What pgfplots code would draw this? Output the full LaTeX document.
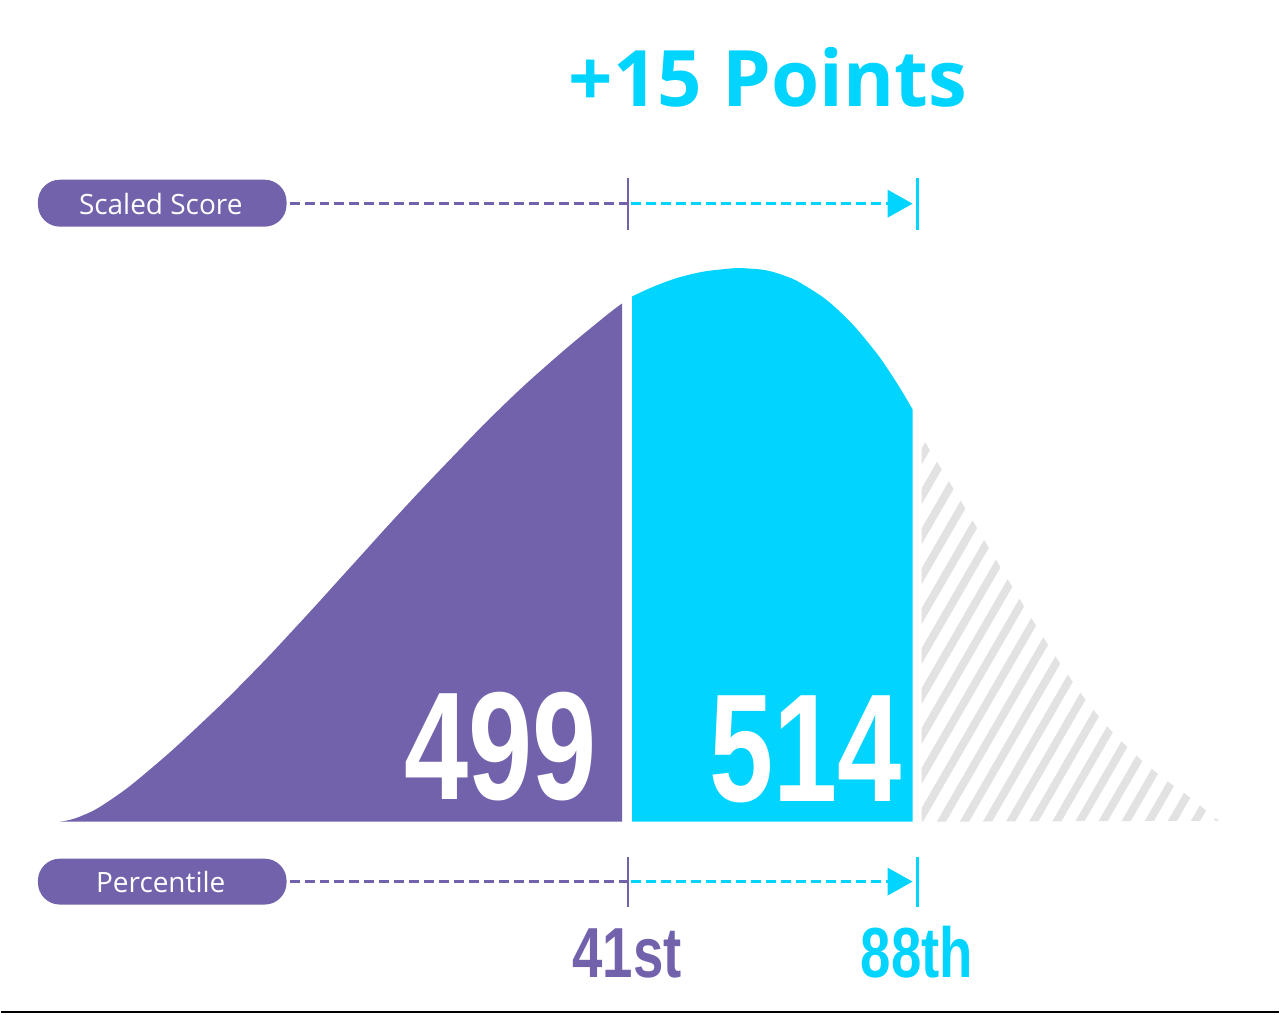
\documentclass[border=0pt]{standalone}
\usepackage{pgfplots}
\pgfplotsset{compat=1.18}
\usepackage{pgfplotstable}
\usetikzlibrary{patterns.meta}
\usepackage{fontspec}
\setmainfont{Open Sans}
\newfontfamily\condf{Liberation Sans}[FakeStretch=0.75]
\newfontfamily\condg{Liberation Sans}[FakeStretch=0.77]
\definecolor{purpleC}{HTML}{7262AC}
\definecolor{cyanC}{HTML}{00D4FF}
\definecolor{hatchC}{HTML}{E2E2E2}

% curve outlines in pixel coordinates (x, y downward)
\pgfplotstableread{
x y
58 823
80 817.5
110 801
150 770
200 725
250 676
300 623
350 568
400 513
450 460
500 409
550 363
600 321
622 304
}\lowpart
\pgfplotstableread{
x y
632 297
660 284.5
690 275
720 270
750 269
780 274.5
810 289
840 312
870 345
893 377
913 410
}\gainpart
\pgfplotstableread{
x y
922 437
950 483
980 533
1010 583
1040 632
1070 678
1100 718
1130 750
1160 776
1190 798
1205 810
1220 822
}\restpart

\begin{document}
\begin{tikzpicture}
\begin{axis}[
  scale only axis, width=640pt, height=508pt,
  xmin=0, xmax=1280, ymin=0, ymax=1016, y dir=reverse,
  hide axis, clip=false]
\path (rel axis cs:0,0) rectangle (rel axis cs:1,1);

\addplot[draw=none, fill=purpleC, smooth, tension=0.8] table {\lowpart} -- (622,823) -- (58,823) -- cycle;
\addplot[draw=none, fill=cyanC, smooth, tension=0.8] table {\gainpart} -- (913,823) -- (632,823) -- cycle;
\addplot[draw=none, pattern={Lines[angle=60,distance=10pt,line width=4pt]}, pattern color=hatchC, smooth, tension=0.8] table {\restpart} -- (922,823) -- cycle;

% big numbers
\node[anchor=base, text=white, inner sep=0pt, font=\condf\bfseries\fontsize{77}{77}\selectfont] at (500,801) {499};
\node[anchor=base, text=white, inner sep=0pt, font=\condf\bfseries\fontsize{77}{77}\selectfont] at (806,803) {514};

% title
\node[anchor=center, text=cyanC, inner sep=0pt, font=\bfseries\fontsize{39}{39}\selectfont] at (768,77) {+15 Points};

% Scaled score row
\fill[purpleC, rounded corners=11pt] (37,180) rectangle (286,227);
\node[text=white, inner sep=0pt, anchor=center, font=\fontsize{14}{14}\selectfont] at (160,204) {Scaled Score};
\draw[purpleC, line width=1.25pt, dash pattern=on 5pt off 2.5pt] (289,204) -- (627,204);
\draw[cyanC, line width=1.25pt, dash pattern=on 5pt off 2.5pt] (631,204) -- (890,204);
\fill[cyanC] (888,190) -- (913,204) -- (888,218) -- cycle;
\draw[purpleC, line width=1.2pt] (628,178) -- (628,230);
\draw[cyanC, line width=1.2pt] (918,178) -- (918,230);

% Percentile row
\fill[purpleC, rounded corners=11pt] (37,860) rectangle (286,906);
\node[text=white, inner sep=0pt, anchor=center, font=\fontsize{14}{14}\selectfont] at (160,883) {Percentile};
\draw[purpleC, line width=1.25pt, dash pattern=on 5pt off 2.5pt] (289,883) -- (627,883);
\draw[cyanC, line width=1.25pt, dash pattern=on 5pt off 2.5pt] (631,883) -- (890,883);
\fill[cyanC] (888,869) -- (913,883) -- (888,897) -- cycle;
\draw[purpleC, line width=1.2pt] (628,858) -- (628,908);
\draw[cyanC, line width=1.2pt] (918,858) -- (918,908);

\node[anchor=base, text=purpleC, inner sep=0pt, font=\condg\bfseries\fontsize{35.5}{36}\selectfont] at (627,979) {41st};
\node[anchor=base, text=cyanC, inner sep=0pt, font=\condg\bfseries\fontsize{35.5}{36}\selectfont] at (917.5,979) {88th};

\draw[black, line width=1pt] (0,1013.5) -- (1280,1013.5);
\end{axis}
\end{tikzpicture}
\end{document}
